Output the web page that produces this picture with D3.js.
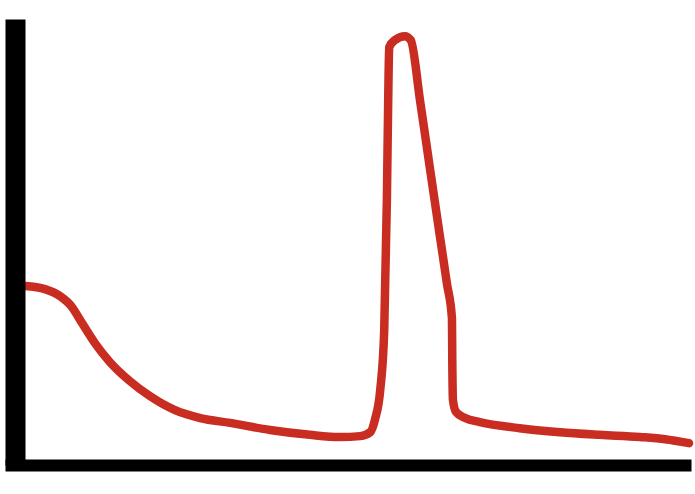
<!DOCTYPE html>
<html>
<head>
<meta charset="utf-8">
<script src="https://cdn.jsdelivr.net/npm/d3@7"></script>
<style>
  html, body { margin: 0; padding: 0; background: #fff; }
  svg { display: block; }
</style>
</head>
<body>
<svg id="chart" width="695" height="494"></svg>
<script>
// signal trace (x and y both on a 0..100 scale)
const xValues = [0, 3.0, 5.3, 7.1, 8.3, 10.5, 12.8, 15.8, 18.8, 22.6, 26.4, 30.9, 36.9, 42.9, 47.4,
  50.5, 52.0, 52.7, 53.5, 54.1, 54.5, 54.7, 54.85, 55.7, 57.2, 58.1, 59.5, 61.0, 62.5, 63.55, 64.3,
  64.35, 64.45, 64.9, 66.3, 68.5, 74.5, 80.6, 86.6, 92.6, 96.4, 100];
const yValues = [39.3, 38.6, 37.0, 34.5, 31.6, 26.4, 22.0, 17.7, 14.3, 11.1, 9.3, 8.2, 6.6, 5.5, 5.0,
  5.2, 6.1, 8.9, 15.7, 29.3, 58.9, 81.6, 93.6, 95.2, 96.1, 95.2, 81.4, 65.9, 50.5, 39.8, 32.0,
  22.5, 13.4, 10.7, 9.3, 8.4, 7.0, 6.1, 5.5, 5.0, 4.5, 3.6];

const svg = d3.select('#chart');

const x = d3.scaleLinear().domain([0, 100]).range([25, 689]);
const y = d3.scaleLinear().domain([0, 100]).range([459, 19]);

const points = xValues.map((v, i) => [v, yValues[i]]);

svg.append('path')
  .datum(points)
  .attr('fill', 'none')
  .attr('stroke', '#c92c20')
  .attr('stroke-width', 8.5)
  .attr('stroke-linecap', 'round')
  .attr('stroke-linejoin', 'round')
  .attr('d', d3.line()
    .x(d => x(d[0]))
    .y(d => y(d[1]))
    .curve(d3.curveMonotoneX));

// heavy black frame, no ticks
const xFrame = d3.scaleLinear().domain([0, 1]).range([5, 691]);
const yFrame = d3.scaleLinear().domain([0, 1]).range([465, 19]);

svg.append('g')
  .attr('transform', 'translate(15,0)')
  .call(d3.axisLeft(yFrame).ticks(0).tickSizeOuter(0))
  .select('.domain')
  .attr('stroke', '#000')
  .attr('stroke-width', 20);

svg.append('g')
  .attr('transform', 'translate(0,465)')
  .call(d3.axisBottom(xFrame).ticks(0).tickSizeOuter(0))
  .select('.domain')
  .attr('stroke', '#000')
  .attr('stroke-width', 12);
</script>
</body>
</html>
